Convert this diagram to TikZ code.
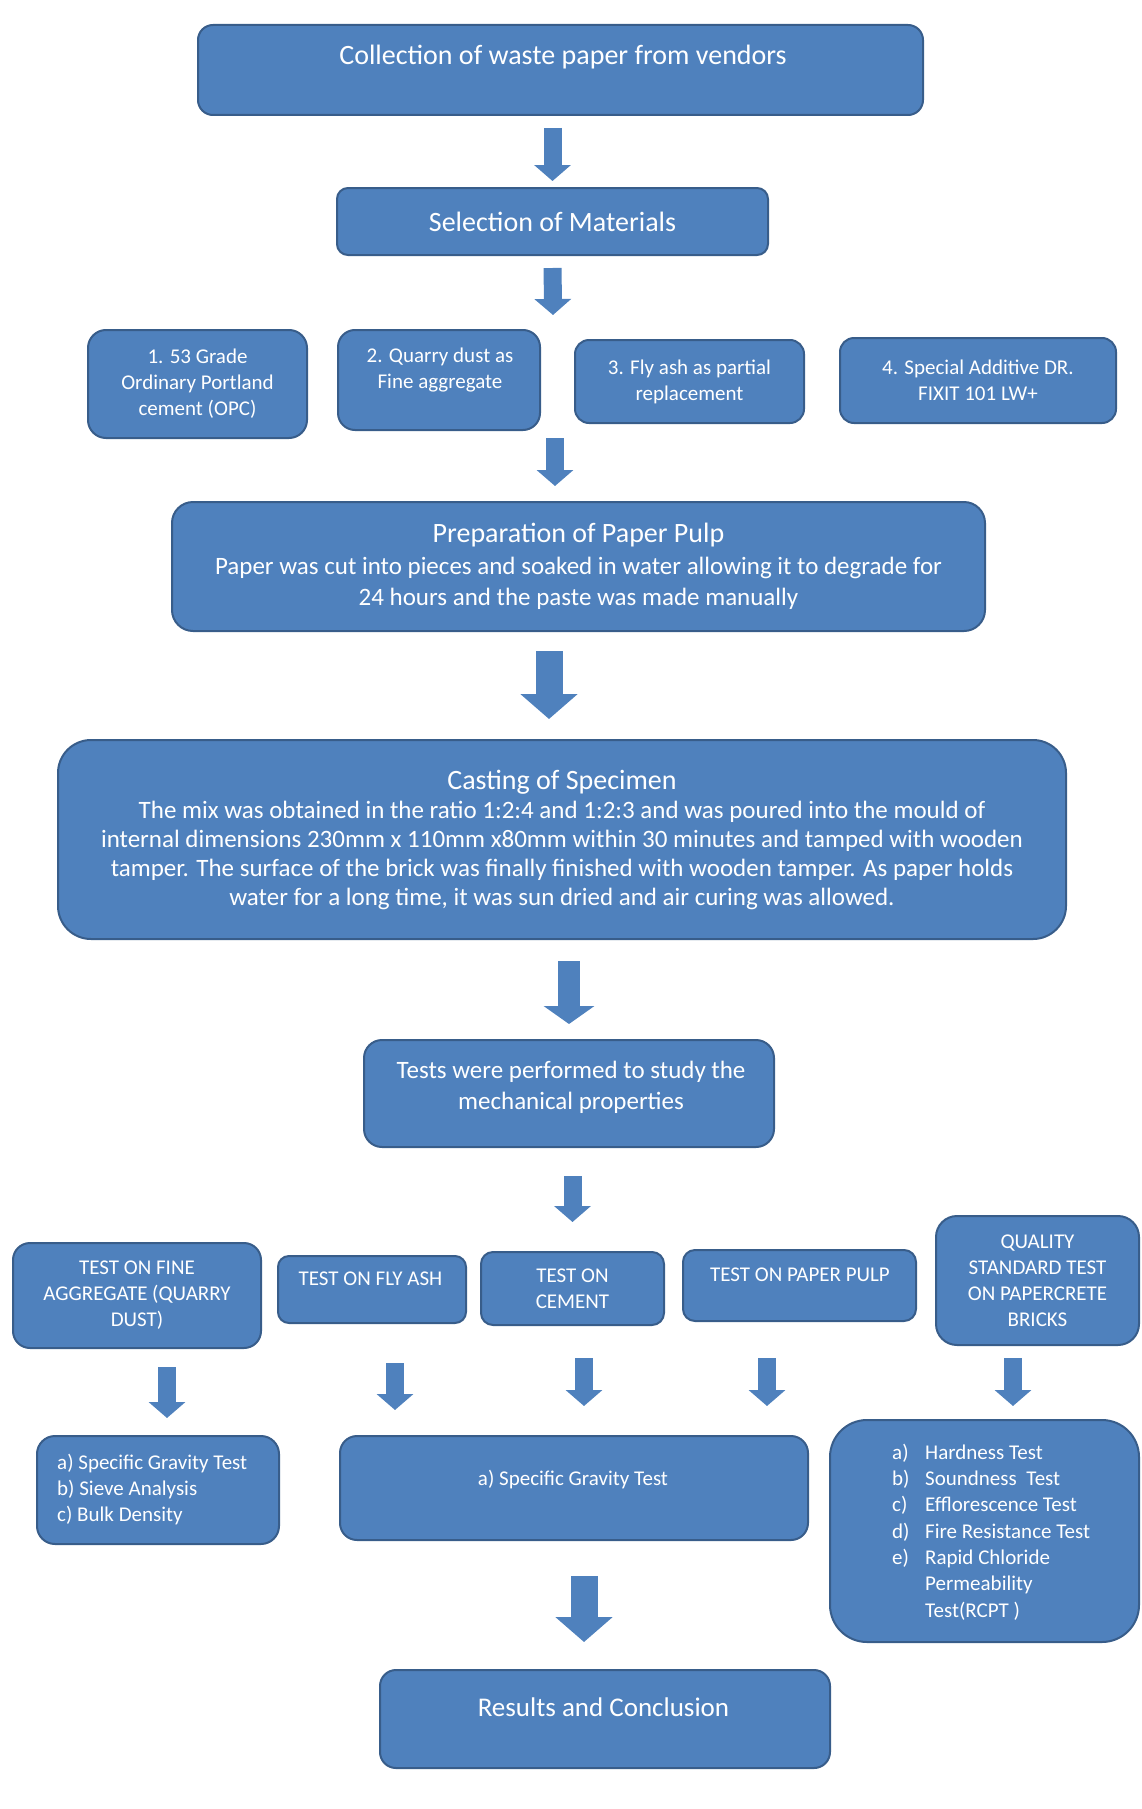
\documentclass[tikz,border=0pt]{standalone}
\usepackage{fontspec}
\setmainfont{Carlito}
\usetikzlibrary{arrows.meta,calc,positioning}
\definecolor{boxfill}{HTML}{4F81BD}
\definecolor{boxedge}{HTML}{385D8A}

\begin{document}
\begin{tikzpicture}[x=1pt,y=-1pt,
  box/.style={draw=boxedge, fill=boxfill, line width=2pt, rounded corners=#1, inner sep=0pt, text=white, align=center},
  box/.default=14pt,
  txt/.style={text=white, align=center, inner sep=0pt},
  big/.style={font=\fontsize{28}{34}\selectfont},
  small/.style={font=\fontsize{21}{26}\selectfont},
  arr/.style={draw=boxfill, line width=18pt, -{Triangle[width=36pt,length=16pt]}},
  midarr/.style={draw=boxfill, line width=22pt, -{Triangle[width=50pt,length=18pt]}},
  bigarr/.style={draw=boxfill, line width=27pt, -{Triangle[width=56pt,length=25pt]}}]
  \useasboundingbox (0,0) rectangle (1141,1809);

  % top of the chart
  \node[box=15pt, minimum width=725pt, minimum height=90pt] (top) at (560.5,70) {};
  \node[txt, big] (topT) at (563,57) {Collection of waste paper from vendors};
  \node[box=11pt, minimum width=431pt, minimum height=67pt, big] (sel) at (552.5,221.5) {Selection of Materials};

  % materials
  \node[box=18pt, minimum width=219pt, minimum height=108pt, small] (opc) at (197.5,384) {1. 53 Grade\\Ordinary Portland\\cement (OPC)};
  \node[box=17pt, minimum width=202pt, minimum height=100pt] (qd) at (439,380) {};
  \node[txt, small] (qdT) at (440,370) {2. Quarry dust as\\Fine aggregate};
  \node[box=14pt, minimum width=229pt, minimum height=83pt, small] (fa) at (689.5,381.5) {3. Fly ash as partial\\replacement};
  \node[box=14pt, minimum width=276pt, minimum height=85pt, small] (add) at (978,380.5) {4. Special Additive DR.\\FIXIT 101 LW+};

  % pulp and casting
  \node[box=21pt, minimum width=813pt, minimum height=129pt, font=\fontsize{25}{31.5}\selectfont] (pulp) at (578.5,566.5)
    {{\fontsize{28}{31.5}\selectfont Preparation of Paper Pulp}\\Paper was cut into pieces and soaked in water allowing it to degrade for\\24 hours and the paste was made manually};
  \node[box=33pt, minimum width=1008pt, minimum height=199pt, font=\fontsize{25}{29}\selectfont] (cast) at (562,839.5)
    {{\fontsize{28}{29}\selectfont Casting of Specimen}\\The mix was obtained in the ratio 1:2:4 and 1:2:3 and was poured into the mould of\\internal dimensions 230mm x 110mm x80mm within 30 minutes and tamped with wooden\\tamper. The surface of the brick was finally finished with wooden tamper. As paper holds\\water for a long time, it was sun dried and air curing was allowed.};
  \node[box=18pt, minimum width=410pt, minimum height=107pt] (tests) at (569,1093.5) {};
  \node[txt, font=\fontsize{25}{31}\selectfont] (testsT) at (571,1087.5) {Tests were performed to study the\\mechanical properties};

  % tests
  \node[box=17pt, minimum width=248pt, minimum height=105pt, small] (tfine) at (137,1295.5) {TEST ON FINE\\AGGREGATE (QUARRY\\DUST)};
  \node[box=11pt, minimum width=188pt, minimum height=67pt] (tfly) at (372,1289.5) {};
  \node[txt, small] (tflyT) at (370.5,1279) {TEST ON FLY ASH};
  \node[box=12pt, minimum width=183pt, minimum height=73pt, small] (tcem) at (572.5,1288.5) {TEST ON\\CEMENT};
  \node[box=12pt, minimum width=233pt, minimum height=71pt] (tpulp) at (799.5,1285.5) {};
  \node[txt, small] (tpulpT) at (800,1275) {TEST ON PAPER PULP};
  \node[box=21pt, minimum width=203pt, minimum height=129pt, small] (tqual) at (1037.5,1280.5) {QUALITY\\STANDARD TEST\\ON PAPERCRETE\\BRICKS};

  % results of tests
  \node[box=18pt, minimum width=242pt, minimum height=108pt] (rfine) at (158,1490) {};
  \node[txt, small, align=left, anchor=west] (rfineT) at (57,1489) {a) Specific Gravity Test\\b) Sieve Analysis\\c) Bulk Density};
  \node[box=17pt, minimum width=468pt, minimum height=104pt] (rsg) at (574,1488) {};
  \node[txt, small] (rsgT) at (573,1479) {a) Specific Gravity Test};
  \node[box=37pt, minimum width=309pt, minimum height=222pt] (rqual) at (984.5,1531) {};
  \node[txt, align=left, anchor=west, font=\fontsize{21}{26.3}\selectfont] (rqualT) at (892,1532)
    {\makebox[33pt][l]{a)}Hardness Test\\\makebox[33pt][l]{b)}Soundness\ \ Test\\\makebox[33pt][l]{c)}Efflorescence Test\\\makebox[33pt][l]{d)}Fire Resistance Test\\\makebox[33pt][l]{e)}Rapid Chloride\\\hspace*{33pt}Permeability\\\hspace*{33pt}Test(RCPT )};
  \node[box=16pt, minimum width=450pt, minimum height=98pt] (res) at (605,1719) {};
  \node[txt, font=\fontsize{27}{32}\selectfont] (resT) at (603.5,1707) {Results and Conclusion};

  % arrows
  \coordinate (mtop) at (553,315);
  \coordinate (mbot) at (555,438);
  \draw[arr, shorten <=12pt, shorten >=6pt] (top.south -| sel.north) -- (sel.north);
  \draw[arr, shorten <=12pt] (sel.south) -- (mtop);
  \draw[arr, shorten >=15pt] (mbot) -- (mbot |- pulp.north);
  \draw[bigarr, shorten <=19pt, shorten >=20pt] (549,0 |- pulp.south) -- (549,0 |- cast.north);
  \draw[midarr, shorten <=21pt, shorten >=15pt] (cast.south -| tests.north) -- (tests.north);
  \draw[arr, shorten <=28pt, shorten >=29pt] (tests.south -| tcem.north) -- (tcem.north);
  \foreach \src/\dst/\xx/\ps/\pe in {tfine/rfine/167/18/17, tfly/rsg/395/39/25, tcem/rsg/584/32/29, tpulp/rsg/767/36/29, tqual/rqual/1013/12/13}
    \draw[arr, shorten <=\ps pt, shorten >=\pe pt] (\xx,0 |- \src.south) -- (\xx,0 |- \dst.north);
  \draw[bigarr, shorten <=35pt, shorten >=27pt] (584,0 |- rsg.south) -- (584,0 |- res.north);
\end{tikzpicture}
\end{document}
